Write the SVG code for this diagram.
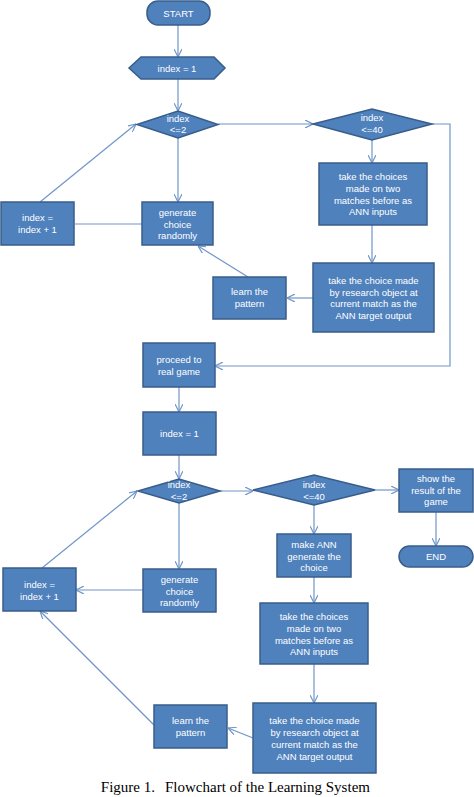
<svg xmlns="http://www.w3.org/2000/svg" width="474" height="797" viewBox="0 0 474 797">
<style>
.n{fill:#4F81BD;stroke:#385D8A;stroke-width:1.5}
.t{fill:#fff;font-family:"Liberation Sans",Arial,sans-serif;font-size:9.5px;text-anchor:middle}
.c{fill:none;stroke:#6F95C8;stroke-width:1.2}
.cap{font-family:"Liberation Serif","Times New Roman",serif;font-size:15px;fill:#000}
</style>
<defs>
<marker id="a" viewBox="0 0 10 10" refX="10" refY="5" markerWidth="8" markerHeight="8" orient="auto" markerUnits="userSpaceOnUse">
<path d="M0,0 L10,5 L0,10" fill="none" stroke="#6F95C8" stroke-width="1.5"/>
</marker>
</defs>
<rect width="474" height="797" fill="#fff"/>
<g id="connectors">
<line class="c" x1="178" y1="25" x2="178" y2="57" marker-end="url(#a)"/>
<line class="c" x1="178" y1="79" x2="178" y2="111" marker-end="url(#a)"/>
<line class="c" x1="218" y1="124" x2="313" y2="124" marker-end="url(#a)"/>
<line class="c" x1="178" y1="138" x2="178" y2="202" marker-end="url(#a)"/>
<line class="c" x1="142" y1="224" x2="75" y2="224"/>
<line class="c" x1="40" y1="202" x2="136" y2="124" marker-end="url(#a)"/>
<line class="c" x1="372" y1="140" x2="372" y2="163" marker-end="url(#a)"/>
<line class="c" x1="372" y1="225" x2="372" y2="263" marker-end="url(#a)"/>
<line class="c" x1="313" y1="298" x2="287" y2="298" marker-end="url(#a)"/>
<line class="c" x1="248" y1="277" x2="198" y2="246" marker-end="url(#a)"/>
<polyline class="c" points="432,124 450,124 450,366 215,366" marker-end="url(#a)"/>
<line class="c" x1="179" y1="387" x2="179" y2="412" marker-end="url(#a)"/>
<line class="c" x1="179" y1="455" x2="179" y2="479" marker-end="url(#a)"/>
<line class="c" x1="220" y1="491" x2="253" y2="491" marker-end="url(#a)"/>
<line class="c" x1="179" y1="503" x2="179" y2="569" marker-end="url(#a)"/>
<line class="c" x1="143" y1="590" x2="76" y2="590" marker-end="url(#a)"/>
<line class="c" x1="42" y1="568" x2="137" y2="491" marker-end="url(#a)"/>
<line class="c" x1="375" y1="490" x2="399" y2="490" marker-end="url(#a)"/>
<line class="c" x1="436" y1="512" x2="436" y2="546" marker-end="url(#a)"/>
<line class="c" x1="314" y1="505" x2="314" y2="534" marker-end="url(#a)"/>
<line class="c" x1="314" y1="577" x2="314" y2="603" marker-end="url(#a)"/>
<line class="c" x1="314" y1="664" x2="314" y2="703" marker-end="url(#a)"/>
<line class="c" x1="253" y1="738" x2="228" y2="728" marker-end="url(#a)"/>
<line class="c" x1="154" y1="725" x2="40" y2="611" marker-end="url(#a)"/>
</g>
<g id="start"><rect class="n" x="147" y="1" width="63" height="24" rx="11"/><text class="t" x="178.5" y="16.5">START</text></g>
<g id="init1"><polygon class="n" points="129,68 141,57 214,57 225,68 214,79 141,79"/><text class="t" x="177" y="71.5">index = 1</text></g>
<g id="dec1"><polygon class="n" points="137,124.5 178,111 218,124.5 178,138"/><text class="t" x="178" y="122">index</text><text class="t" x="178" y="133">&lt;=2</text></g>
<g id="dec2"><polygon class="n" points="313,124 372,109 432,124 372,140"/><text class="t" x="372" y="121">index</text><text class="t" x="372" y="133">&lt;=40</text></g>
<g id="gen1"><rect class="n" x="142" y="202" width="71" height="43"/><text class="t" x="177.5" y="216">generate</text><text class="t" x="177.5" y="227.5">choice</text><text class="t" x="177.5" y="239">randomly</text></g>
<g id="inc1"><rect class="n" x="1" y="202" width="73" height="43"/><text class="t" x="37.5" y="221">index =</text><text class="t" x="37.5" y="233">index + 1</text></g>
<g id="take1"><rect class="n" x="319" y="163" width="108" height="62"/><text class="t" x="373" y="180">take the choices</text><text class="t" x="373" y="192">made on two</text><text class="t" x="373" y="203.5">matches before as</text><text class="t" x="373" y="215">ANN inputs</text></g>
<g id="target1"><rect class="n" x="313" y="263" width="121" height="69"/><text class="t" x="373.5" y="284">take the choice made</text><text class="t" x="373.5" y="295.5">by research object at</text><text class="t" x="373.5" y="307">current match as the</text><text class="t" x="373.5" y="319">ANN target output</text></g>
<g id="learn1"><rect class="n" x="213" y="277" width="73" height="42"/><text class="t" x="249.5" y="295">learn the</text><text class="t" x="249.5" y="307">pattern</text></g>
<g id="proceed"><rect class="n" x="143" y="343" width="72" height="44"/><text class="t" x="179" y="363">proceed to</text><text class="t" x="179" y="374.5">real game</text></g>
<g id="init2"><rect class="n" x="143" y="412" width="73" height="43"/><text class="t" x="179.5" y="437">index = 1</text></g>
<g id="dec3"><polygon class="n" points="138,491 179,479 220,491 179,503"/><text class="t" x="179" y="488">index</text><text class="t" x="179" y="500">&lt;=2</text></g>
<g id="dec4"><polygon class="n" points="253,490 314,475 375,490 314,505"/><text class="t" x="314" y="488">index</text><text class="t" x="314" y="500">&lt;=40</text></g>
<g id="show"><rect class="n" x="399" y="469" width="74" height="43"/><text class="t" x="436" y="482">show the</text><text class="t" x="436" y="493.5">result of the</text><text class="t" x="436" y="505">game</text></g>
<g id="end"><rect class="n" x="399" y="546" width="74" height="21" rx="10.5"/><text class="t" x="436" y="560">END</text></g>
<g id="make"><rect class="n" x="277" y="534" width="74" height="43"/><text class="t" x="314" y="548">make ANN</text><text class="t" x="314" y="559.5">generate the</text><text class="t" x="314" y="571">choice</text></g>
<g id="gen2"><rect class="n" x="143" y="569" width="73" height="43"/><text class="t" x="179.5" y="583">generate</text><text class="t" x="179.5" y="594.5">choice</text><text class="t" x="179.5" y="606">randomly</text></g>
<g id="inc2"><rect class="n" x="3" y="568" width="73" height="43"/><text class="t" x="39.5" y="588">index =</text><text class="t" x="39.5" y="599.5">index + 1</text></g>
<g id="take2"><rect class="n" x="260" y="603" width="108" height="61"/><text class="t" x="314" y="620">take the choices</text><text class="t" x="314" y="632">made on two</text><text class="t" x="314" y="643.5">matches before as</text><text class="t" x="314" y="655">ANN inputs</text></g>
<g id="target2"><rect class="n" x="253" y="703" width="123" height="70"/><text class="t" x="314.5" y="724">take the choice made</text><text class="t" x="314.5" y="736">by research object at</text><text class="t" x="314.5" y="748">current match as the</text><text class="t" x="314.5" y="759.5">ANN target output</text></g>
<g id="learn2"><rect class="n" x="154" y="705" width="73" height="43"/><text class="t" x="190.5" y="724">learn the</text><text class="t" x="190.5" y="736">pattern</text></g>
<text class="cap" x="155" y="792" text-anchor="end">Figure 1.</text>
<text class="cap" x="165" y="792">Flowchart of the Learning System</text>
</svg>
